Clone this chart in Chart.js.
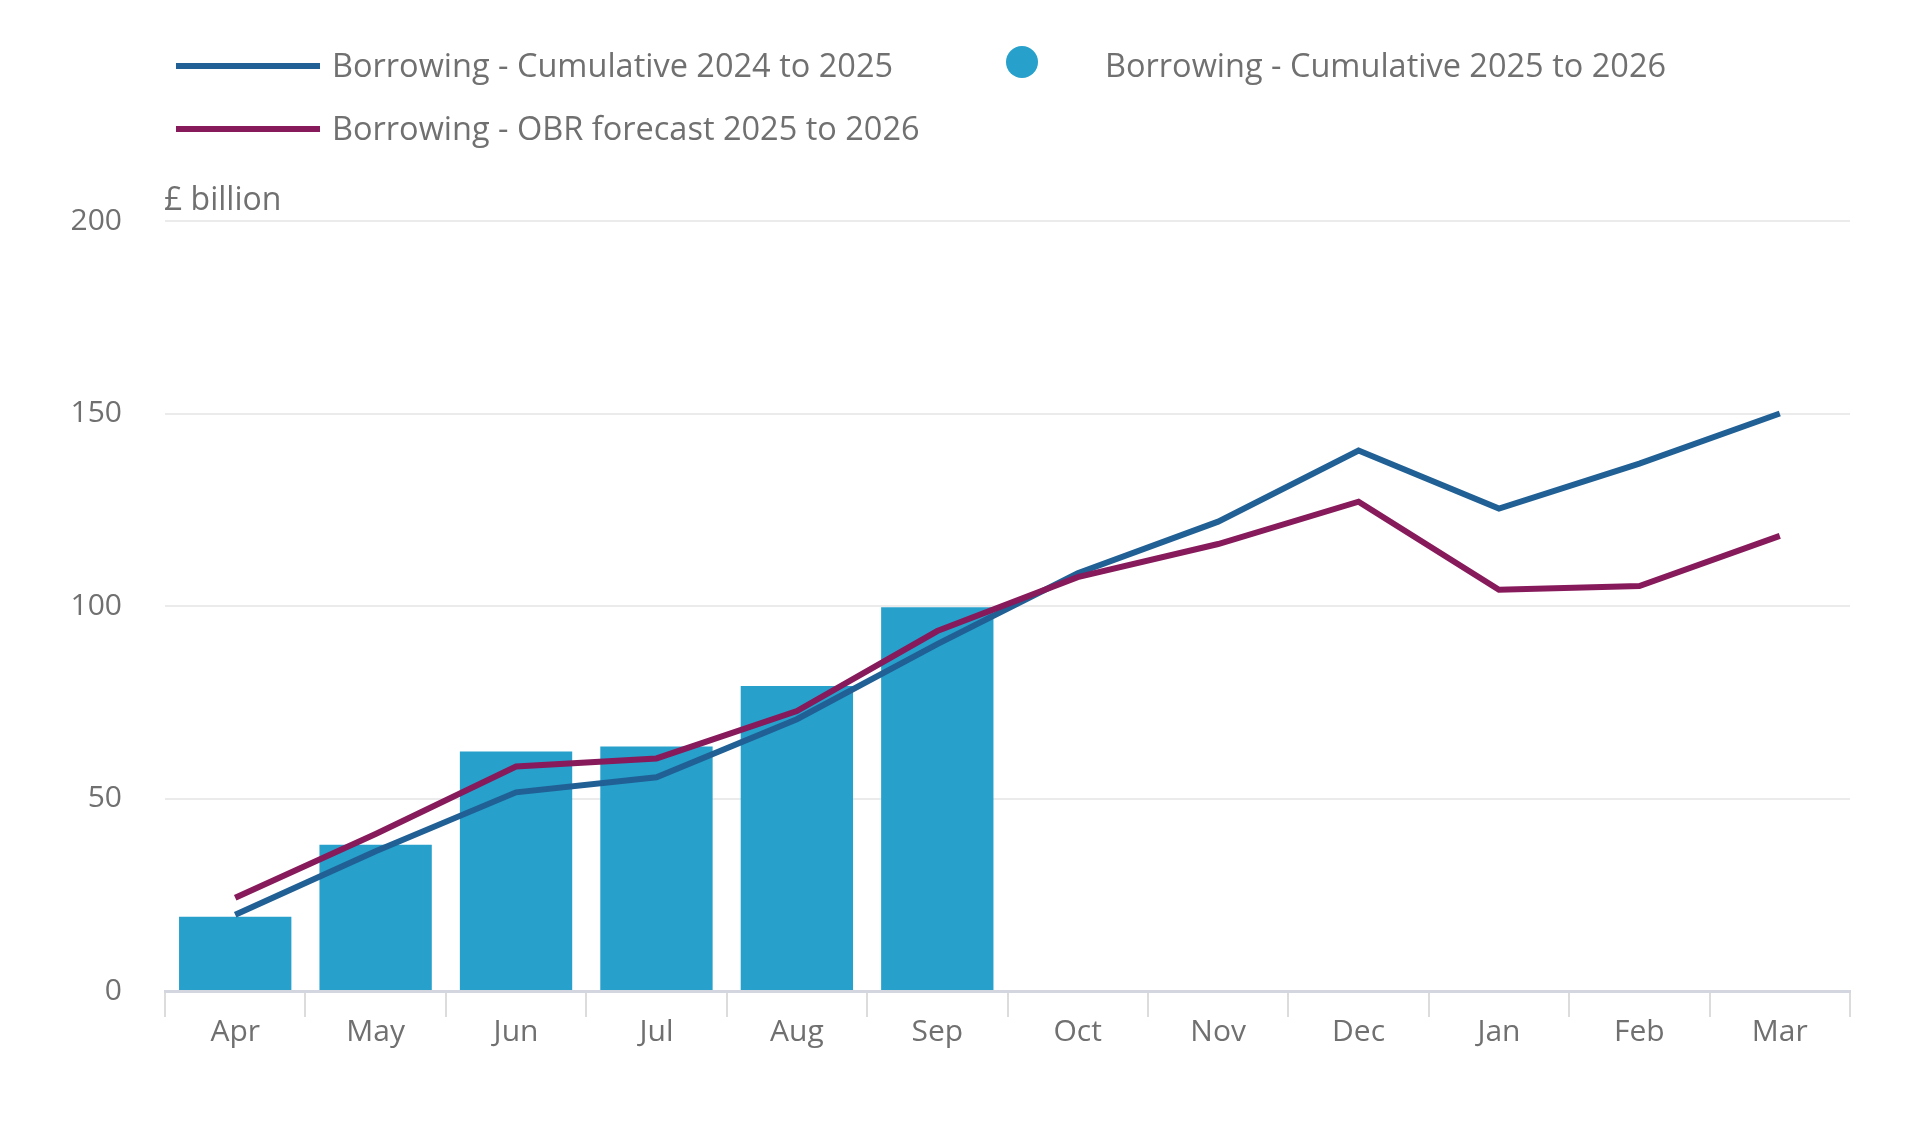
<!DOCTYPE html>
<html>
<head>
<meta charset="utf-8">
<script src="https://cdn.jsdelivr.net/npm/chart.js@4/dist/chart.umd.min.js"></script>
<style>
  html, body { margin: 0; padding: 0; background: #ffffff; }
  body { width: 1908px; height: 1146px; position: relative; overflow: hidden; font-family: "Open Sans", sans-serif; }
  #chart { position: absolute; left: 0; top: 0; }
  .leg { position: absolute; color: #707070; font-size: 32.5px; line-height: 40px; white-space: nowrap; }
  .swatch { position: absolute; height: 6px; width: 144px; }
  .dot { position: absolute; width: 32px; height: 32px; border-radius: 50%; }
  #unit { position: absolute; left: 164px; top: 178px; color: #707070; font-size: 32px; line-height: 40px; }
</style>
</head>
<body>
<canvas id="chart" width="1908" height="1146"></canvas>
<div class="swatch" style="left:176px; top:63px; background:#206095;"></div>
<div class="leg" id="leg1" style="left:332px; top:45px;"></div>
<div class="dot" style="left:1006px; top:46px; background:#27a0cc;"></div>
<div class="leg" id="leg2" style="left:1105px; top:45px;"></div>
<div class="swatch" style="left:176px; top:126px; background:#871a5b;"></div>
<div class="leg" id="leg3" style="left:332px; top:108px;"></div>
<div id="unit">£ billion</div>
<script>
const months = ["Apr", "May", "Jun", "Jul", "Aug", "Sep", "Oct", "Nov", "Dec", "Jan", "Feb", "Mar"];
const seriesNames = [
  "Borrowing - Cumulative 2024 to 2025",
  "Borrowing - Cumulative 2025 to 2026",
  "Borrowing - OBR forecast 2025 to 2026"
];
const cumulative2025to2026 = [19.3, 38.0, 62.2, 63.5, 79.2, 99.7, null, null, null, null, null, null];
const cumulative2024to2025 = [19.8, 36.3, 51.6, 55.5, 70.6, 90.1, 108.5, 121.9, 140.4, 125.3, 137.0, 150.0];
const obrForecast2025to2026 = [24.2, 40.8, 58.3, 60.4, 72.7, 93.5, 107.5, 116.1, 127.1, 104.2, 105.2, 118.2];
const yTicks = [0, 50, 100, 150, 200];

document.getElementById('leg1').textContent = seriesNames[0];
document.getElementById('leg2').textContent = seriesNames[1];
document.getElementById('leg3').textContent = seriesNames[2];

Chart.defaults.font.family = '"Open Sans", sans-serif';
Chart.defaults.color = '#707070';

new Chart(document.getElementById('chart'), {
  type: 'bar',
  data: {
    labels: months,
    datasets: [
      {
        type: 'line',
        label: seriesNames[2],
        data: obrForecast2025to2026,
        borderColor: '#871a5b',
        backgroundColor: '#871a5b',
        borderWidth: 6,
        pointRadius: 0,
        tension: 0,
        order: 1
      },
      {
        type: 'line',
        label: seriesNames[0],
        data: cumulative2024to2025,
        borderColor: '#206095',
        backgroundColor: '#206095',
        borderWidth: 6,
        pointRadius: 0,
        tension: 0,
        order: 2
      },
      {
        type: 'bar',
        label: seriesNames[1],
        data: cumulative2025to2026,
        backgroundColor: '#27a0cc',
        categoryPercentage: 1.0,
        barPercentage: 0.8,
        order: 3
      }
    ]
  },
  options: {
    responsive: false,
    animation: false,
    devicePixelRatio: 1,
    layout: { padding: { left: 0, top: 221, right: 58, bottom: 0 } },
    plugins: { legend: { display: false }, tooltip: { enabled: false } },
    scales: {
      x: {
        offset: true,
        grid: { offset: true, drawOnChartArea: false, drawTicks: true, tickLength: 26, color: '#dcdcdc', lineWidth: 2 },
        border: { display: true, color: '#d3d6de', width: 3 },
        ticks: { font: { size: 30 }, color: '#707070', padding: -3, maxRotation: 0, autoSkip: false },
        afterFit: (s) => { s.height = 155; }
      },
      y: {
        min: 0,
        max: 200,
        afterBuildTicks: (s) => { s.ticks = yTicks.map(v => ({ value: v })); },
        grid: { drawTicks: false, color: '#ebebeb', lineWidth: 2 },
        border: { display: false },
        ticks: { font: { size: 30 }, color: '#707070', padding: 43 },
        afterFit: (s) => { s.width = 165; }
      }
    }
  }
});
</script>
</body>
</html>
